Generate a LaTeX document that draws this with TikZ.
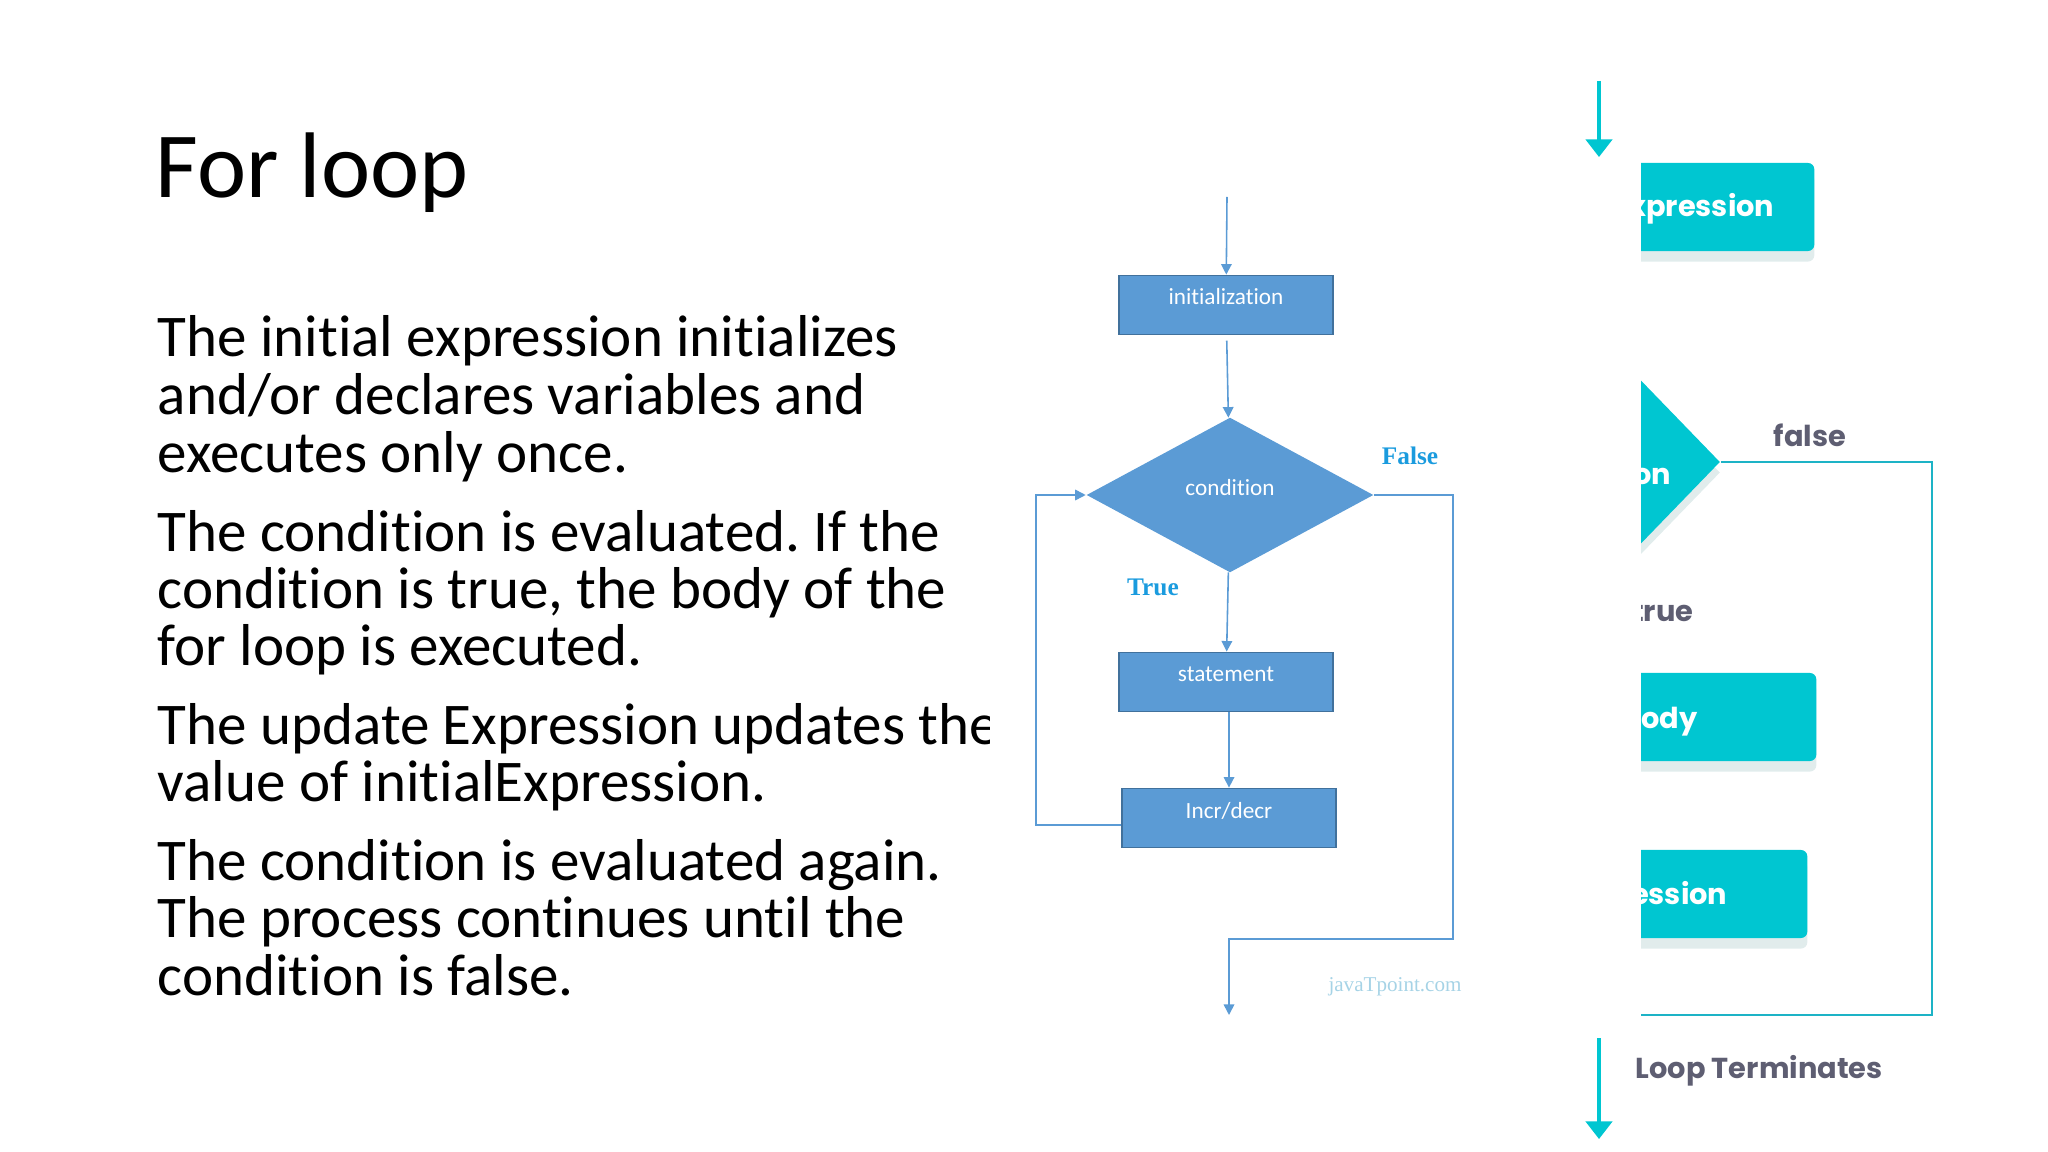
\documentclass[tikz,border=0pt]{standalone}
\usepackage{fontspec}
\setmainfont{Carlito}[Ligatures={NoCommon,NoRare,NoContextual}]
\newfontfamily\popfont{Poppins}
\newfontfamily\serifb{Liberation Serif}
\usetikzlibrary{shapes.geometric,arrows.meta,shadows}
\definecolor{fcblue}{HTML}{5B9BD5}
\definecolor{fcedge}{HTML}{41719C}
\definecolor{fclabel}{HTML}{1A9BDE}
\definecolor{jtp}{HTML}{A6D3E6}
\definecolor{teal1}{HTML}{00C6D1}
\definecolor{tealline}{HTML}{1DB3C6}
\definecolor{pgray}{HTML}{5E5E72}
\definecolor{shadowc}{HTML}{A9C9CA}
\frenchspacing
\begin{document}
\begin{tikzpicture}[x=0.01cm, y=-0.01cm, every node/.style={inner sep=0pt},
  para/.style={anchor=base west,font=\fontsize{16.8}{20}\selectfont},
  fcbox/.style={draw=fcedge,fill=fcblue,line width=0.5pt,minimum width=2.14cm,minimum height=0.59cm,
    text=white,font=\fontsize{6.6}{7}\selectfont,text height=2mm,text depth=2mm},
  fcdia/.style={diamond,fill=fcblue,minimum width=2.87cm,minimum height=1.55cm,
    text=white,font=\fontsize{6.6}{7}\selectfont,text height=2mm,text depth=2mm},
  fcarrow/.style={draw=fcblue,line width=0.45pt,-{Triangle[length=3pt,width=3pt]}},
  fclab/.style={font=\serifb\bfseries\fontsize{7.2}{8}\selectfont,text=fclabel},
  tbox/.style={fill=teal1,rounded corners=1.8pt,minimum width=3cm,anchor=east,
    drop shadow={shadow xshift=0pt,shadow yshift=-3pt,opacity=0.35,fill=shadowc}},
  ttext/.style={font=\popfont\bfseries\fontsize{8.2}{9}\selectfont,text=white,anchor=base east},
  tlab/.style={font=\popfont\bfseries\fontsize{8.2}{9}\selectfont,text=pgray},
  tline/.style={draw=tealline,line width=0.75pt},
  tarrow/.style={draw=teal1,line width=0.9pt,-{Triangle[length=5pt,width=7.5pt]}}]
\useasboundingbox (0,0) rectangle (2048,1152);
% title and text
\node[anchor=base west,font=\fontsize{26.5}{30}\selectfont] (title) at (155,198) {For loop};
\node[para] (l1) at (157,357) {The initial expression initializes};
\node[para] (l2) at (157,415) {and/or declares variables and};
\node[para] (l3) at (157,472) {executes only once.};
\node[para] (l4) at (157,551) {The condition is evaluated. If the};
\node[para] (l5) at (157,608) {condition is true, the body of the};
\node[para] (l6) at (157,666) {for loop is executed.};
\begin{scope}
\clip (0,0) rectangle (989,1152);
\node[para] (l7) at (157,744) {The update Expression updates the};
\end{scope}
\node[para] (l8) at (157,801) {value of initialExpression.};
\node[para] (l9) at (157,880) {The condition is evaluated again.};
\node[para] (l10) at (157,937) {The process continues until the};
\node[para] (l11) at (157,995) {condition is false.};
% flowchart
\coordinate (start) at (1227,197);
\node[fcbox] (init) at (1226,305) {initialization};
\node[fcdia] (cond) at (1230,495) {condition};
\node[fcbox] (stmt) at (1226,682) {statement};
\node[fcbox] (incr) at (1229,818) {Incr/decr};
\coordinate (exit) at (1229,1015);
\draw[fcarrow] (start) -- (init);
\draw[fcarrow,shorten <=1.5pt] (init) -- (cond);
\draw[fcarrow] (cond) -- (stmt);
\draw[fcarrow] (stmt.south -| incr) -- (incr.north);
\draw[fcarrow] ([yshift=-0.07cm]incr.west) -- ++(-85,0) |- (cond.west);
\draw[fcarrow] (cond.east) -| (1453,939) -| (exit);
\node[fclab] (lfalse) at (1410,456) {False};
\node[fclab] (ltrue) at (1153,587) {True};
\node[font=\serifb\fontsize{6}{7}\selectfont,text=jtp] (wm) at (1395,987) {javaTpoint.com};
% cropped picture on the right
\coordinate (a1) at (1599,81);
\coordinate (a2) at (1599,157);
\coordinate (b1) at (1599,1038);
\coordinate (b2) at (1599,1139);
\draw[tarrow] (a1) -- (a2);
\draw[tarrow] (b1) -- (b2);
\begin{scope}
\clip (1641,0) rectangle (2048,1152);
\node[tbox,minimum height=0.88cm] (e1) at (1815,207) {};
\node[diamond,fill=teal1,minimum width=3cm,minimum height=3.1cm,
  drop shadow={shadow xshift=0pt,shadow yshift=-3pt,opacity=0.35,fill=shadowc}] (td) at (1570,462) {};
\node[tbox,minimum height=0.88cm] (bd) at (1817,717) {};
\node[tbox,minimum height=0.88cm] (e2) at (1808,894) {};
\node[ttext] (e1t) at (1775,217) {xpression};
\node[ttext] (tdt) at (1672,485) {on};
\node[ttext] (bdt) at (1698,728) {ody};
\node[ttext] (e2t) at (1728,904) {ession};
\node[tlab,anchor=base east] (ttrue) at (1694,622) {true};
\draw[tline] (td.east) -| (1932,1015) -- (1600,1015);
\end{scope}
\node[tlab,anchor=base] (tfalse) at (1810,447) {false};
\node[tlab,anchor=base west] (term) at (1635,1078) {Loop Terminates};
\end{tikzpicture}
\end{document}
